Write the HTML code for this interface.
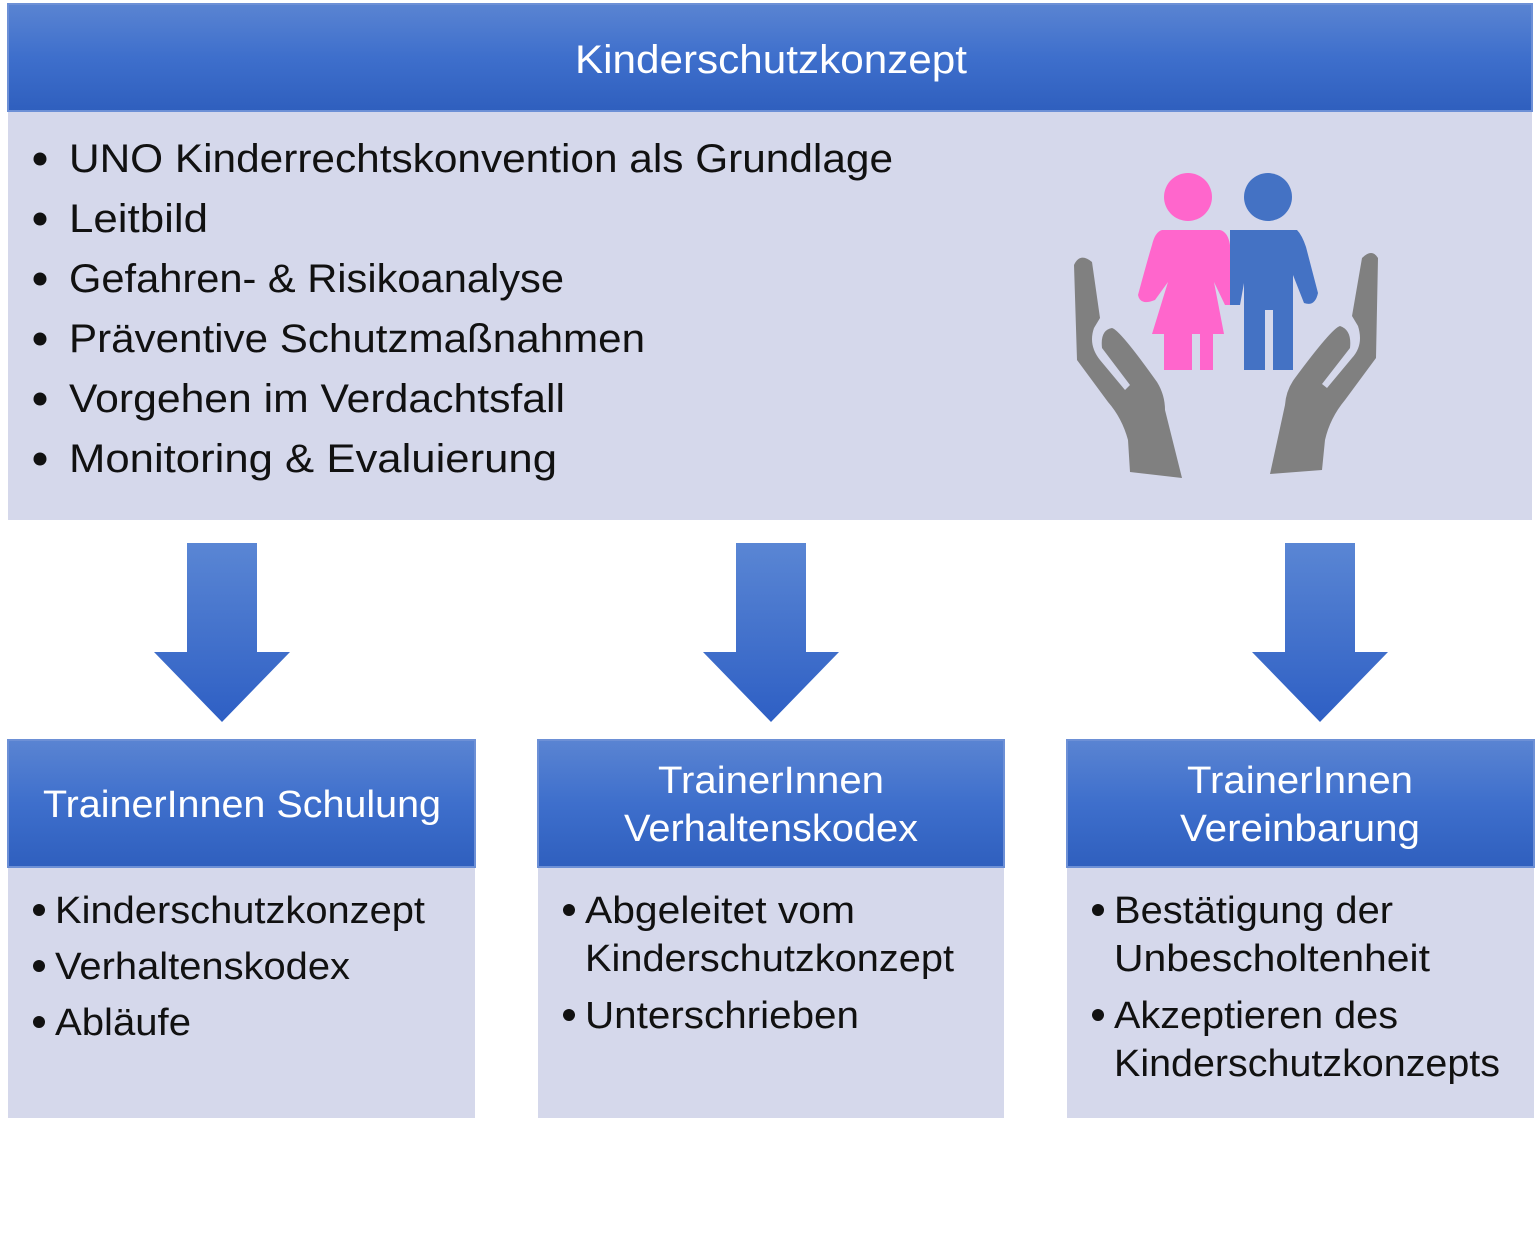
<!DOCTYPE html>
<html><head><meta charset="utf-8"><style>html,body{margin:0;padding:0;background:#fff}svg{display:block}text{font-family:"Liberation Sans",sans-serif}</style></head><body>
<svg width="1536" height="1252" viewBox="0 0 1536 1252" xmlns="http://www.w3.org/2000/svg">
<defs>
<linearGradient id="hb" x1="0" y1="0" x2="0" y2="1"><stop offset="0" stop-color="#5a84d2"/><stop offset="0.5" stop-color="#3e6fcc"/><stop offset="1" stop-color="#2f5fbe"/></linearGradient>
<linearGradient id="ab" x1="0" y1="0" x2="0" y2="1"><stop offset="0" stop-color="#5a86d4"/><stop offset="1" stop-color="#2e5fc4"/></linearGradient>
</defs>
<!-- top -->
<rect x="8" y="4" width="1524" height="107" fill="url(#hb)" stroke="#6d90d6" stroke-width="2"/>
<rect x="8" y="112" width="1524" height="408" fill="#d5d8eb"/>
<text x="771" y="73" font-size="40" fill="#fff" text-anchor="middle" textLength="392" lengthAdjust="spacingAndGlyphs">Kinderschutzkonzept</text>
<g font-size="40" fill="#111">
<circle cx="40" cy="159" r="6.5"/><text x="69" y="172" textLength="824" lengthAdjust="spacingAndGlyphs">UNO Kinderrechtskonvention als Grundlage</text>
<circle cx="40" cy="219" r="6.5"/><text x="69" y="232" textLength="139" lengthAdjust="spacingAndGlyphs">Leitbild</text>
<circle cx="40" cy="279" r="6.5"/><text x="69" y="292" textLength="495" lengthAdjust="spacingAndGlyphs">Gefahren- &amp; Risikoanalyse</text>
<circle cx="40" cy="339" r="6.5"/><text x="69" y="352" textLength="576" lengthAdjust="spacingAndGlyphs">Präventive Schutzmaßnahmen</text>
<circle cx="40" cy="399" r="6.5"/><text x="69" y="412" textLength="496" lengthAdjust="spacingAndGlyphs">Vorgehen im Verdachtsfall</text>
<circle cx="40" cy="459" r="6.5"/><text x="69" y="472" textLength="488" lengthAdjust="spacingAndGlyphs">Monitoring &amp; Evaluierung</text>
</g>
<!-- icon -->
<circle cx="1188" cy="197" r="24" fill="#ff66cc"/>
<circle cx="1268" cy="197" r="24" fill="#4472c4"/>
<path d="M1162,230 L1220,230 Q1228,232 1230,245 L1230,305 L1225,305 L1214,282 L1224,334 L1213,334 L1213,370 L1200,370 L1200,334 L1192,334 L1192,370 L1164,370 L1164,334 L1152,334 L1168,282 L1155,300 Q1140,306 1138,295 Q1148,258 1152,245 Q1155,232 1162,230Z" fill="#ff66cc"/>
<path d="M1230,230 L1297,230 Q1302,235 1306,247 L1318,293 Q1315,307 1304,303 L1293,275 L1293,370 L1273,370 L1273,310 L1265,310 L1265,370 L1244,370 L1244,283 L1240,305 L1230,305Z" fill="#4472c4"/>
<path d="M1074,265 Q1080,252 1092,262 L1100,318 L1094,328 Q1088,345 1100,360 L1125,390 L1130,385 L1102,348 Q1100,330 1112,328 Q1120,330 1157,382 Q1165,395 1165,410 L1182,478 L1130,472 L1128,440 Q1122,418 1108,402 L1077,360 Z" fill="#808080"/>
<path d="M1378,258 Q1372,248 1362,258 L1352,316 L1358,326 Q1364,345 1352,358 L1327,388 L1322,384 L1350,348 Q1352,330 1340,326 Q1332,328 1295,378 Q1286,390 1285,405 L1270,474 L1322,470 L1325,440 Q1330,418 1345,400 L1376,358 Z" fill="#808080"/>
<!-- arrows -->
<g fill="url(#ab)">
<path d="M187,543 L257,543 L257,652 L290,652 L222,722 L154,652 L187,652Z"/>
<path d="M736,543 L806,543 L806,652 L839,652 L771,722 L703,652 L736,652Z"/>
<path d="M1285,543 L1355,543 L1355,652 L1388,652 L1320,722 L1252,652 L1285,652Z"/>
</g>
<!-- boxes -->
<g>
<rect x="8" y="740" width="467" height="127" fill="url(#hb)" stroke="#6d90d6" stroke-width="2"/>
<rect x="8" y="868" width="467" height="250" fill="#d5d8eb"/>
<rect x="538" y="740" width="466" height="127" fill="url(#hb)" stroke="#6d90d6" stroke-width="2"/>
<rect x="538" y="868" width="466" height="250" fill="#d5d8eb"/>
<rect x="1067" y="740" width="467" height="127" fill="url(#hb)" stroke="#6d90d6" stroke-width="2"/>
<rect x="1067" y="868" width="467" height="250" fill="#d5d8eb"/>
</g>
<g font-size="38" fill="#fff" text-anchor="middle">
<text x="242" y="817" textLength="398" lengthAdjust="spacingAndGlyphs">TrainerInnen Schulung</text>
<text x="771" y="793" textLength="226" lengthAdjust="spacingAndGlyphs">TrainerInnen</text>
<text x="771" y="841" textLength="294" lengthAdjust="spacingAndGlyphs">Verhaltenskodex</text>
<text x="1300" y="793" textLength="226" lengthAdjust="spacingAndGlyphs">TrainerInnen</text>
<text x="1300" y="841" textLength="240" lengthAdjust="spacingAndGlyphs">Vereinbarung</text>
</g>
<g font-size="38" fill="#111">
<circle cx="39" cy="910" r="6"/><text x="55" y="923" textLength="370" lengthAdjust="spacingAndGlyphs">Kinderschutzkonzept</text>
<circle cx="39" cy="966" r="6"/><text x="55" y="979" textLength="295" lengthAdjust="spacingAndGlyphs">Verhaltenskodex</text>
<circle cx="39" cy="1022" r="6"/><text x="55" y="1035" textLength="136" lengthAdjust="spacingAndGlyphs">Abläufe</text>
<circle cx="569" cy="910" r="6"/><text x="585" y="923" textLength="270" lengthAdjust="spacingAndGlyphs">Abgeleitet vom</text>
<text x="585" y="971" textLength="369" lengthAdjust="spacingAndGlyphs">Kinderschutzkonzept</text>
<circle cx="569" cy="1015" r="6"/><text x="585" y="1028" textLength="274" lengthAdjust="spacingAndGlyphs">Unterschrieben</text>
<circle cx="1098" cy="910" r="6"/><text x="1114" y="923" textLength="279" lengthAdjust="spacingAndGlyphs">Bestätigung der</text>
<text x="1114" y="971" textLength="316" lengthAdjust="spacingAndGlyphs">Unbescholtenheit</text>
<circle cx="1098" cy="1015" r="6"/><text x="1114" y="1028" textLength="284" lengthAdjust="spacingAndGlyphs">Akzeptieren des</text>
<text x="1114" y="1076" textLength="386" lengthAdjust="spacingAndGlyphs">Kinderschutzkonzepts</text>
</g>
</svg>
</body></html>
